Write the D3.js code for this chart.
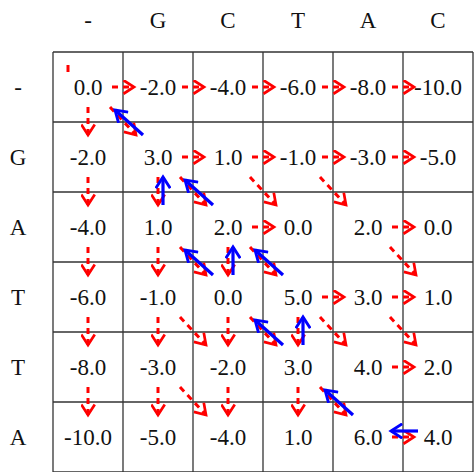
<!DOCTYPE html>
<html><head><meta charset="utf-8">
<script src="https://cdn.jsdelivr.net/npm/d3@7"></script>
<style>body{margin:0;background:#fff}text{font-family:"Liberation Serif",serif;font-size:23px;fill:#111}</style>
</head><body><svg width="474" height="472"></svg>
<script>
const colSeq = ["-", "G", "C", "T", "A", "C"];
const rowSeq = ["-", "G", "A", "T", "T", "A"];
const scores = [
  [0, -2, -4, -6, -8, -10],
  [-2, 3, 1, -1, -3, -5],
  [-4, 1, 2, 0, 2, 0],
  [-6, -1, 0, 5, 3, 1],
  [-8, -3, -2, 3, 4, 2],
  [-10, -5, -4, 1, 6, 4]
];
const match = 3, mismatch = -1, gap = -2;

const svg = d3.select("svg");
const x = d3.scaleBand().domain(d3.range(6)).range([53, 473]);
const y = d3.scaleBand().domain(d3.range(6)).range([52, 472]);
const cx = j => x(j) + x.bandwidth() / 2, cy = i => y(i) + y.bandwidth() / 2;

const defs = svg.append("defs");
[["red", "#f00"], ["blue", "#00f"]].forEach(([id, c]) => {
  defs.append("marker").attr("id", id).attr("viewBox", "0 -5 10 10")
    .attr("refX", 8).attr("refY", 0).attr("markerWidth", 5).attr("markerHeight", 5)
    .attr("markerUnits", "strokeWidth").attr("orient", "auto")
    .append("path").attr("d", "M1,-4.5L8,0L1,4.5").attr("fill", "none")
    .attr("stroke", c).attr("stroke-width", 1.8);
});

// grid
svg.append("g").selectAll("line.v").data(d3.range(7)).join("line")
  .attr("x1", d => 53 + d * x.bandwidth()).attr("x2", d => 53 + d * x.bandwidth())
  .attr("y1", 52).attr("y2", 472).attr("stroke", "#333").attr("stroke-width", 1.3);
svg.append("g").selectAll("line.h").data(d3.range(7)).join("line")
  .attr("y1", d => 52 + d * y.bandwidth()).attr("y2", d => 52 + d * y.bandwidth())
  .attr("x1", 53).attr("x2", 473).attr("stroke", "#333").attr("stroke-width", 1.3);

// labels
svg.append("g").selectAll("text").data(colSeq).join("text")
  .attr("x", (d, j) => cx(j)).attr("y", 28).attr("text-anchor", "middle").text(d => d);
svg.append("g").selectAll("text").data(rowSeq).join("text")
  .attr("x", 18).attr("y", (d, i) => cy(i) + 8).attr("text-anchor", "middle").text(d => d);

// predecessor moves
const sub = (i, j) => rowSeq[i] === colSeq[j] ? match : mismatch;
const moves = [];
for (let i = 0; i < 6; i++) for (let j = 0; j < 6; j++) {
  const v = scores[i][j];
  if (j > 0 && scores[i][j - 1] + gap === v) moves.push({i, j, pi: i, pj: j - 1, t: "h"});
  if (i > 0 && scores[i - 1][j] + gap === v) moves.push({i, j, pi: i - 1, pj: j, t: "v"});
  if (i > 0 && j > 0 && scores[i - 1][j - 1] + sub(i, j) === v) moves.push({i, j, pi: i - 1, pj: j - 1, t: "d"});
}
// traceback over all optimal paths
const back = [];
const seen = new Set();
(function walk(i, j) {
  const k = i + "," + j;
  if (seen.has(k)) return;
  seen.add(k);
  moves.filter(m => m.i === i && m.j === j).forEach(m => { back.push(m); walk(m.pi, m.pj); });
})(5, 5);

function redPts(m) {
  const a = cx(m.pj), b = cy(m.pi);
  if (m.t === "h") return [a + 24, b, a + 46, b];
  if (m.t === "v") return [a, b + 20, a, b + 48];
  return [a + 22, b + 20, a + 48, b + 48];
}
function bluePts(m) {
  const a = cx(m.j), b = cy(m.i);
  if (m.t === "h") return [a - 20, b - 6, a - 47, b - 6];
  if (m.t === "v") return [a + 5, b - 22, a + 5, b - 50];
  return [a - 15, b - 22, a - 43, b - 47];
}

svg.append("g").selectAll("line").data(moves).join("line")
  .each(function (m) { const p = redPts(m); d3.select(this).attr("x1", p[0]).attr("y1", p[1]).attr("x2", p[2]).attr("y2", p[3]); })
  .attr("stroke", "#f00").attr("stroke-width", 3).attr("stroke-dasharray", "6,5")
  .attr("marker-end", "url(#red)");
svg.append("line").attr("x1", cx(0) - 20).attr("y1", cy(0) - 22).attr("x2", cx(0) - 20).attr("y2", cy(0) - 15)
  .attr("stroke", "#f00").attr("stroke-width", 3);

// values
svg.append("g").selectAll("text").data(scores.flatMap((r, i) => r.map((v, j) => ({i, j, v})))).join("text")
  .attr("x", d => cx(d.j)).attr("y", d => cy(d.i) + 8).attr("text-anchor", "middle")
  .text(d => d.v.toFixed(1));

svg.append("g").selectAll("line").data(back).join("line")
  .each(function (m) { const p = bluePts(m); d3.select(this).attr("x1", p[0]).attr("y1", p[1]).attr("x2", p[2]).attr("y2", p[3]); })
  .attr("stroke", "#00f").attr("stroke-width", 3.2).attr("marker-end", "url(#blue)");
</script></body></html>
